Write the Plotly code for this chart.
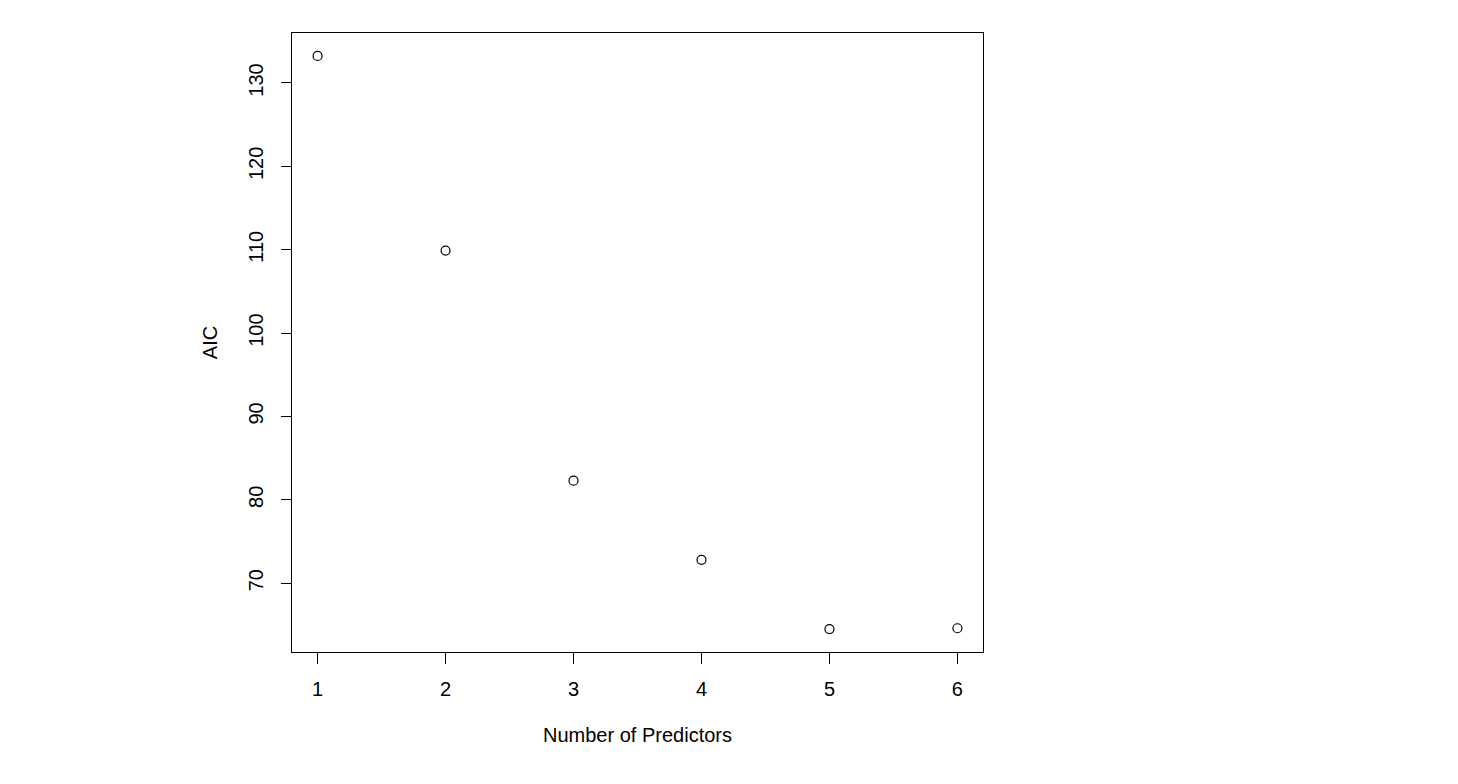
import plotly.graph_objects as go

predictors = [1, 2, 3, 4, 5, 6]
aic = [133.24, 109.9, 82.3, 72.8, 64.5, 64.6]
x_ticks = [1, 2, 3, 4, 5, 6]
y_ticks = [70, 80, 90, 100, 110, 120, 130]

def padded(vals, frac=0.04):
    lo, hi = min(vals), max(vals)
    d = (hi - lo) * frac
    return [lo - d, hi + d]

fig = go.Figure(go.Scatter(
    x=predictors, y=aic, mode="markers",
    marker=dict(symbol="circle-open", size=9, color="black", line=dict(width=1.2, color="black")),
    showlegend=False, hoverinfo="x+y"))

font = dict(family="Liberation Sans, Arial, sans-serif", size=20, color="black")
fig.update_layout(
    width=1450, height=776,
    margin=dict(l=284, r=475, t=25, b=132),
    paper_bgcolor="white", plot_bgcolor="white",
    font=font,
)
fig.update_xaxes(
    range=padded(predictors), tickvals=x_ticks, ticktext=[str(v) for v in x_ticks],
    showline=True, mirror=True, linecolor="black", linewidth=1,
    ticks="outside", ticklen=11, tickcolor="black", tickwidth=1,
    showgrid=False, zeroline=False, ticklabelstandoff=8,
    title=dict(text="Number of Predictors", font=font, standoff=28),
)
fig.update_yaxes(
    range=padded(aic), tickvals=y_ticks, ticktext=[str(v) for v in y_ticks],
    showline=True, mirror=True, linecolor="black", linewidth=1,
    ticks="outside", ticklen=10, tickcolor="black", tickwidth=1, tickangle=-90,
    showgrid=False, zeroline=False, ticklabelstandoff=10,
    title=dict(text="AIC", font=font, standoff=22),
)
fig.write_html("out.html")
